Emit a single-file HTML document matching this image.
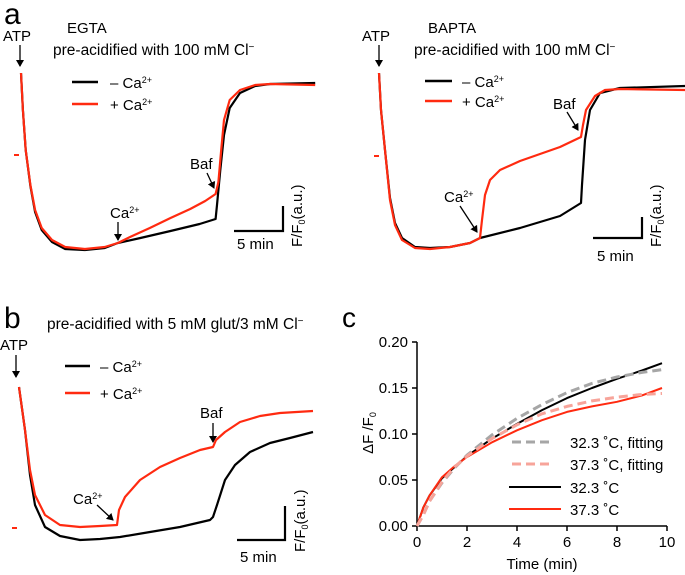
<!DOCTYPE html>
<html><head><meta charset="utf-8"><style>
body{margin:0;background:#fff}
svg{display:block;font-family:"Liberation Sans",sans-serif}
</style></head><body>
<svg id="fig" width="685" height="575" viewBox="0 0 685 575">
<defs><marker id="ah" markerWidth="8" markerHeight="8" refX="6" refY="4" orient="auto" markerUnits="userSpaceOnUse"><path d="M0,0 L7,4 L0,8 Z" fill="#000"/></marker></defs>
<!-- panel a left -->
<g font-size="15">
<text x="4" y="24" font-size="30">a</text>
<text x="3" y="41">ATP</text>
<line x1="20" y1="45" x2="20" y2="66" stroke="#000" stroke-width="1.3" marker-end="url(#ah)"/>
<text x="67" y="33">EGTA</text>
<text x="53" y="55" font-size="15.5">pre-acidified with 100 mM Cl<tspan font-size="10" dy="-5">−</tspan></text>
<line x1="72" y1="82" x2="98" y2="82" stroke="#000" stroke-width="2.5"/>
<text x="110" y="88">– Ca<tspan font-size="9" dy="-5">2+</tspan></text>
<line x1="72" y1="104" x2="98" y2="104" stroke="#ff2a10" stroke-width="2.5"/>
<text x="110" y="110">+ Ca<tspan font-size="9" dy="-5">2+</tspan></text>
<text x="190" y="169">Baf</text>
<line x1="207" y1="173" x2="214" y2="188" stroke="#000" stroke-width="1.3" marker-end="url(#ah)"/>
<text x="110" y="218">Ca<tspan font-size="9" dy="-5">2+</tspan></text>
<line x1="118" y1="222" x2="118" y2="240" stroke="#000" stroke-width="1.3" marker-end="url(#ah)"/>
<line x1="14" y1="155" x2="19" y2="155" stroke="#ff2a10" stroke-width="2"/>
<path d="M234,231 H283 V206" fill="none" stroke="#000" stroke-width="2.2"/>
<text x="237" y="249">5 min</text>
<text transform="translate(302,247) rotate(-90)">F/F<tspan font-size="9" dy="3">0</tspan><tspan dy="-3">(a.u.)</tspan></text>
<g id="aL"></g>
</g>
<!-- panel a right -->
<g font-size="15">
<text x="362" y="41">ATP</text>
<line x1="379" y1="45" x2="379" y2="66" stroke="#000" stroke-width="1.3" marker-end="url(#ah)"/>
<text x="428" y="33">BAPTA</text>
<text x="414" y="55" font-size="15.5">pre-acidified with 100 mM Cl<tspan font-size="10" dy="-5">−</tspan></text>
<line x1="425" y1="81" x2="452" y2="81" stroke="#000" stroke-width="2.5"/>
<text x="462" y="87">– Ca<tspan font-size="9" dy="-5">2+</tspan></text>
<line x1="425" y1="101" x2="452" y2="101" stroke="#ff2a10" stroke-width="2.5"/>
<text x="462" y="107">+ Ca<tspan font-size="9" dy="-5">2+</tspan></text>
<text x="553" y="109">Baf</text>
<line x1="567" y1="112" x2="578" y2="130" stroke="#000" stroke-width="1.3" marker-end="url(#ah)"/>
<text x="444" y="202">Ca<tspan font-size="9" dy="-5">2+</tspan></text>
<line x1="460" y1="206" x2="477" y2="232" stroke="#000" stroke-width="1.3" marker-end="url(#ah)"/>
<line x1="374" y1="156" x2="379" y2="156" stroke="#ff2a10" stroke-width="2"/>
<path d="M593,238 H642 V217" fill="none" stroke="#000" stroke-width="2.2"/>
<text x="597" y="261">5 min</text>
<text transform="translate(661,247) rotate(-90)">F/F<tspan font-size="9" dy="3">0</tspan><tspan dy="-3">(a.u.)</tspan></text>
<g id="aR"></g>
</g>
<!-- panel b -->
<g font-size="15">
<text x="4" y="328" font-size="30">b</text>
<text x="47" y="329" font-size="15.5">pre-acidified with 5 mM glut/3 mM Cl<tspan font-size="10" dy="-5">−</tspan></text>
<text x="0" y="350">ATP</text>
<line x1="16" y1="355" x2="16" y2="377" stroke="#000" stroke-width="1.3" marker-end="url(#ah)"/>
<line x1="65" y1="366" x2="90" y2="366" stroke="#000" stroke-width="2.5"/>
<text x="100" y="372">– Ca<tspan font-size="9" dy="-5">2+</tspan></text>
<line x1="65" y1="393" x2="90" y2="393" stroke="#ff2a10" stroke-width="2.5"/>
<text x="100" y="399">+ Ca<tspan font-size="9" dy="-5">2+</tspan></text>
<text x="200" y="418">Baf</text>
<line x1="213" y1="423" x2="213" y2="442" stroke="#000" stroke-width="1.3" marker-end="url(#ah)"/>
<text x="73" y="504">Ca<tspan font-size="9" dy="-5">2+</tspan></text>
<line x1="97" y1="505" x2="113" y2="520" stroke="#000" stroke-width="1.3" marker-end="url(#ah)"/>
<line x1="12" y1="528" x2="17" y2="528" stroke="#ff2a10" stroke-width="2"/>
<path d="M237,540 H285 V506" fill="none" stroke="#000" stroke-width="2.2"/>
<text x="240" y="562">5 min</text>
<text transform="translate(305,552) rotate(-90)">F/F<tspan font-size="9" dy="3">0</tspan><tspan dy="-3">(a.u.)</tspan></text>
<g id="bP"></g>
</g>
<!-- panel c -->
<g font-size="15">
<text x="342" y="327" font-size="28">c</text>
<g id="cP"></g>
<text x="542" y="569" text-anchor="middle">Time (min)</text>
<text transform="translate(373,433) rotate(-90)" text-anchor="middle">ΔF /F<tspan font-size="9" dy="3">0</tspan></text>
<line x1="512" y1="442" x2="554" y2="442" stroke="#a6a6a6" stroke-width="3" stroke-dasharray="9,5"/>
<text x="570" y="448">32.3 ˚C, fitting</text>
<line x1="512" y1="464" x2="554" y2="464" stroke="#f7a49a" stroke-width="3" stroke-dasharray="9,5"/>
<text x="570" y="470">37.3 ˚C, fitting</text>
<line x1="509" y1="487" x2="561" y2="487" stroke="#000" stroke-width="2"/>
<text x="570" y="493">32.3 ˚C</text>
<line x1="509" y1="509" x2="561" y2="509" stroke="#ff2a10" stroke-width="2"/>
<text x="570" y="515">37.3 ˚C</text>
</g>
</svg>
<script>
// Panel a (EGTA) traces: time (min), value (a.u.)
const aL_redT=[0,0.2,0.5,1.0,1.5,2.2,3.3,4.7,6.8,8.9,10.3,11.6,13.7,15.9,18.0,19.6,20.7,21.0,21.3,21.6,22.2,23.3,24.9,26.5,31.3];
const aL_redV=[18.7,15.0,11.0,7.5,5.0,3.2,2.0,1.3,1.1,1.3,1.7,2.3,3.2,4.2,5.1,5.9,6.6,7.8,11.0,14.0,16.0,17.0,17.5,17.6,17.5];
const aL_blkT=[0,0.2,0.5,1.0,1.5,2.2,3.3,4.7,6.8,8.9,10.3,12.7,15.9,19.0,20.7,20.85,21.2,21.6,22.2,23.3,24.9,26.5,31.3];
const aL_blkV=[18.7,15.0,11.0,7.4,4.8,3.0,1.8,1.1,1.0,1.2,1.7,2.2,2.9,3.6,4.1,5.5,9.0,12.5,15.2,16.7,17.4,17.6,17.7];
// Panel a (BAPTA)
const aR_redT=[0,0.2,0.6,1.1,1.6,2.3,3.6,5.1,7.1,9.1,10.1,10.3,10.6,11.1,12.1,14.1,16.1,18.1,20.2,20.4,20.7,21.6,22.6,24.1,30.6];
const aR_redV=[18.7,15.0,11.0,6.0,3.5,2.0,1.2,1.1,1.3,1.7,2.2,4.0,6.5,8.0,9.0,9.9,10.6,11.3,12.3,13.5,15.0,16.4,17.0,17.1,17.0];
const aR_blkT=[0,0.2,0.6,1.1,1.6,2.3,3.6,5.1,7.1,9.1,10.1,14.1,18.1,20.2,20.3,20.6,21.1,22.1,24.1,30.6];
const aR_blkV=[18.7,15.0,11.0,6.2,3.7,2.2,1.3,1.2,1.3,1.7,2.2,3.2,4.4,5.7,7.5,12.0,15.0,16.7,17.2,17.4];
// Panel b
const b_redT=[0,0.6,1.1,1.6,2.6,4.1,6.1,8.1,9.8,10.0,10.6,12.1,14.1,16.1,18.1,19.4,19.7,20.6,22.1,24.1,26.1,29.4];
const b_redV=[17.3,13.0,9.0,6.5,4.5,3.5,3.3,3.4,3.5,5.0,6.3,8.0,9.3,10.2,11.0,11.3,12.0,12.8,13.8,14.4,14.7,14.9];
const b_blkT=[0,0.6,1.1,1.6,2.6,4.1,6.1,8.1,10.1,13.1,16.1,19.1,19.4,19.8,20.6,21.6,23.1,25.1,27.1,29.4];
const b_blkV=[17.3,13.0,8.5,5.5,3.3,2.4,2.0,2.1,2.3,2.8,3.3,4.0,4.3,5.5,8.0,9.5,10.8,11.7,12.2,12.8];
// Panel c
const cT=[0,0.25,0.5,1,1.5,2,3,4,5,6,7,8,9,9.8];
const c32=[0,0.02,0.033,0.052,0.064,0.076,0.095,0.111,0.126,0.139,0.150,0.160,0.169,0.177];
const c37=[0,0.02,0.033,0.053,0.065,0.075,0.091,0.104,0.115,0.124,0.130,0.135,0.142,0.150];
const c32fit=[0,0.012,0.027,0.047,0.063,0.077,0.099,0.117,0.132,0.145,0.155,0.162,0.167,0.170];
const c37fit=[0,0.012,0.027,0.048,0.064,0.076,0.095,0.110,0.122,0.130,0.136,0.140,0.143,0.144];
const cXTicks=[0,2,4,6,8,10];
const cYTicks=[0,0.05,0.10,0.15,0.20];
const cYLabels=["0.00","0.05","0.10","0.15","0.20"];

const NS="http://www.w3.org/2000/svg";
function mk(tag,attrs,parent){const e=document.createElementNS(NS,tag);for(const k in attrs)e.setAttribute(k,attrs[k]);parent.appendChild(e);return e;}
function trace(g,T,V,sx,sy,color,w,dash,name){
  let d="";for(let i=0;i<T.length;i++)d+=(i?"L":"M")+sx(T[i]).toFixed(1)+","+sy(V[i]).toFixed(1);
  const p=mk("path",{d:d,fill:"none",stroke:color,"stroke-width":w,"stroke-linejoin":"round"},g);
  if(dash)p.setAttribute("stroke-dasharray",dash);
  
  
}
const RED="#ff2a10";
{const g=document.getElementById("aL");const sx=t=>21+t*9.4,sy=v=>260-v*10;
 trace(g,aL_blkT,aL_blkV,sx,sy,"#000",2.2,null,"trace-egta-minus-ca");
 trace(g,aL_redT,aL_redV,sx,sy,RED,2.2,null,"trace-egta-plus-ca");}
{const g=document.getElementById("aR");const sx=t=>379+t*10,sy=v=>260-v*10;
 trace(g,aR_blkT,aR_blkV,sx,sy,"#000",2.2,null,"trace-bapta-minus-ca");
 trace(g,aR_redT,aR_redV,sx,sy,RED,2.2,null,"trace-bapta-plus-ca");}
{const g=document.getElementById("bP");const sx=t=>19+t*10,sy=v=>560-v*10;
 trace(g,b_blkT,b_blkV,sx,sy,"#000",2.2,null,"trace-glut-minus-ca");
 trace(g,b_redT,b_redV,sx,sy,RED,2.2,null,"trace-glut-plus-ca");}
{const g=document.getElementById("cP");const sx=t=>417+t*25,sy=v=>526-v*920;
 const ya=mk("line",{x1:417,y1:sy(0.2),x2:417,y2:526,stroke:"#000","stroke-width":1.5},g);
 
 
 const xa=mk("line",{x1:417,y1:526,x2:sx(10),y2:526,stroke:"#000","stroke-width":1.5},g);
 
 
 cYTicks.forEach((v,i)=>{mk("line",{x1:412,y1:sy(v),x2:417,y2:sy(v),stroke:"#000","stroke-width":1.5},g);
   const t=mk("text",{x:408,y:sy(v)+5,"text-anchor":"end","font-size":15},g);t.textContent=cYLabels[i];
   
   });
 cXTicks.forEach(v=>{mk("line",{x1:sx(v),y1:526,x2:sx(v),y2:531,stroke:"#000","stroke-width":1.5},g);
   const t=mk("text",{x:sx(v),y:547,"text-anchor":"middle","font-size":15},g);t.textContent=v;
   
   });
 trace(g,cT,c32,sx,sy,"#000",2,null,"line-32-3c");
 trace(g,cT,c37,sx,sy,RED,2,null,"line-37-3c");
 trace(g,cT,c32fit,sx,sy,"#a6a6a6",3,"9,5","fit-32-3c");
 trace(g,cT,c37fit,sx,sy,"#f7a49a",3,"9,5","fit-37-3c");}
</script>
</body></html>
